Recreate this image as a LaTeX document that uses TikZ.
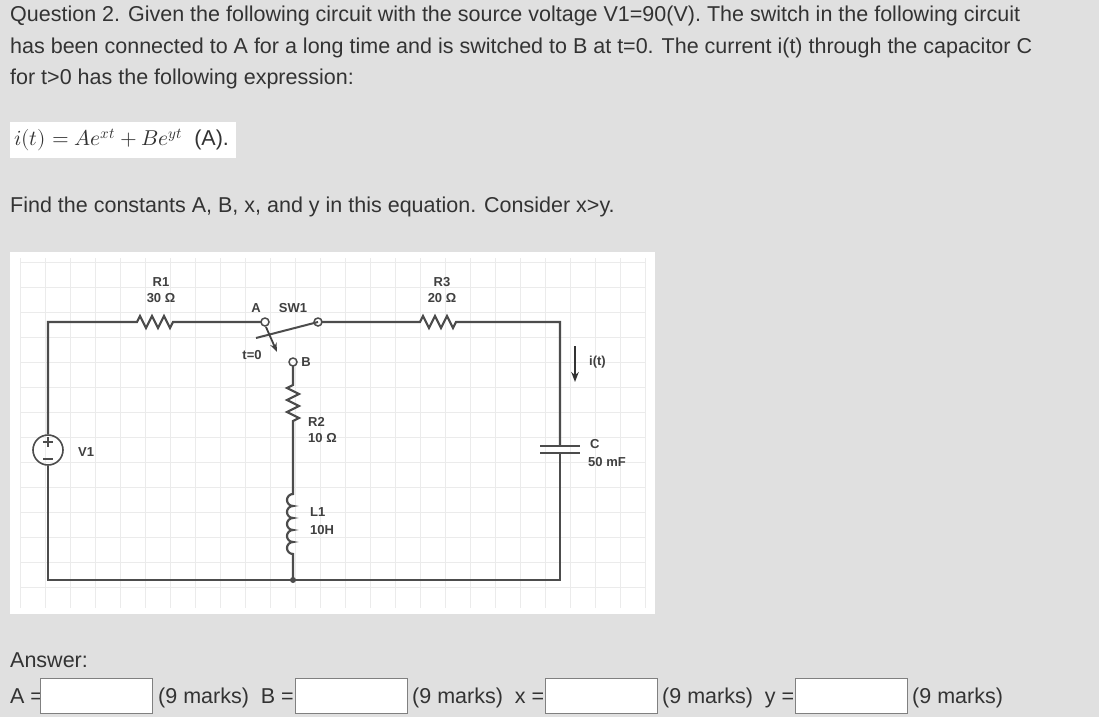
\documentclass[tikz,border=0pt]{standalone}
\usepackage{fontspec}
\setmainfont{Liberation Sans}
\usepackage{unicode-math}
\setmathfont{Latin Modern Math}
\usetikzlibrary{arrows.meta}
\begin{document}
\begin{tikzpicture}[x=1pt,y=-1pt,
  txt/.style={anchor=base west,inner sep=0,font=\fontsize{21.5}{24}\selectfont,text=black!80},
  lbl/.style={inner sep=0,font=\fontsize{13}{14}\selectfont\bfseries,text=black!75},
  wire/.style={draw=black!70,line width=2.2pt},
  abox/.style={draw=black!50,fill=white,minimum width=112pt,minimum height=35pt,inner sep=0,anchor=west}]
\fill[black!12] (0,0) rectangle (1099,717);
\useasboundingbox (0,0) rectangle (1099,717);
\node[txt] (t1) at (10,22) {Question 2. Given the following circuit with the source voltage V1=90(V). The switch in the following circuit};
\node[txt] (t2) at (10,53) {has been connected to A for a long time and is switched to B at t=0. The current i(t) through the capacitor C};
\node[txt] (t3) at (10,84) {for t>0 has the following expression:};
\node[fill=white,minimum width=226pt,minimum height=36pt,anchor=west,inner sep=0] (eqbox) at (10,140) {};
\node[txt,anchor=west] (eq) at (14,140) {$i(t)=Ae^{xt}+Be^{yt}$\ \ (A).};
\node[txt] (t4) at (10,212) {Find the constants A, B, x, and y in this equation. Consider x>y.};
% circuit panel
\fill[white] (10,252) rectangle (655,614);
\foreach \gx in {20,45,...,645} \draw[black!8,line width=0.6pt] (\gx,258) -- (\gx,608);
\foreach \gy in {262,287,...,608} \draw[black!8,line width=0.6pt] (20,\gy) -- (645,\gy);
\coordinate (tl) at (53,322); \coordinate (tr) at (560,322);
\coordinate (bl) at (53,580); \coordinate (br) at (560,580);
\coordinate (bm) at (293,580);
\node[circle,draw=black!70,line width=1.6pt,minimum size=30pt,inner sep=0] (v1) at (48,450) {};
\draw[black!70,line width=1.4pt] (43,442)--(53,442) (48,437)--(48,447) (43,459)--(53,459);
\node[lbl,anchor=west] (v1l) at (78,452) {V1};
\coordinate (A) at (265,322); \coordinate (S2) at (318,322); \coordinate (B) at (293,362);
% wires
\draw[wire] (v1.north) -- (48,322) -- (137,322) -- ++(3,-6)--++(6,12)--++(6,-12)--++(6,12)--++(6,-12)--++(6,12)--++(3,-6) -- (261,322);
\draw[wire] (322,322) -- (420,322) -- ++(3,-6)--++(6,12)--++(6,-12)--++(6,12)--++(6,-12)--++(6,12)--++(3,-6) -- (tr) -- (560,446);
\draw[wire] (560,453) -- (br) -- (bl) -- (48,580) -- (v1.south);
\draw[wire] (540,446) -- (580,446); \draw[wire] (540,453) -- (580,453);
\draw[black!70,line width=1.5pt] (A) circle (4); \draw[black!70,line width=1.5pt] (S2) circle (4);
\draw[black!70,line width=1.5pt] (B) circle (4);
\draw[black!70,line width=2pt] (256,338) -- (S2);
\draw[black!75,line width=1.8pt,-{Stealth[length=9pt]}] (266,327) -- (277,352);
\draw[wire] (293,366) -- (293,385) --++(-6,3)--++(12,6)--++(-12,6)--++(12,6)--++(-12,6)--++(12,6)--++(-6,3) -- (293,494)
  \foreach \i in {1,...,5}{ arc[start angle=270,end angle=90,radius=6] } -- (bm);
\fill[black!70] (bm) circle (3);
\draw[black!80,line width=2.2pt,-{Stealth[length=10pt]}] (575,346) -- (575,382);
\node[lbl,anchor=west] (il) at (589,362) {i(t)};
\node[lbl] (r1l) at (161,282) {R1}; \node[lbl] (r1v) at (161,298) {30 Ω};
\node[lbl] (r3l) at (442,282) {R3}; \node[lbl] (r3v) at (442,298) {20 Ω};
\node[lbl] (al) at (256,308) {A}; \node[lbl] (swl) at (293,308) {SW1};
\node[lbl] (t0) at (252,355) {t=0}; \node[lbl] (bl2) at (306,362) {B};
\node[lbl,anchor=west] (r2l) at (308,422) {R2}; \node[lbl,anchor=west] (r2v) at (308,438) {10 Ω};
\node[lbl,anchor=west] (l1l) at (310,512) {L1}; \node[lbl,anchor=west] (l1v) at (310,530) {10H};
\node[lbl,anchor=west] (cl) at (590,444) {C}; \node[lbl,anchor=west] (cv) at (588,462) {50 mF};
% answers
\node[txt] (ans) at (10,667) {Answer:};
\node[txt] (a) at (10,703) {A =};
\node[abox] (ba) at (40,696) {};
\node[txt] (m1) at (158,703) {(9 marks)\ \ B =};
\node[abox] (bb) at (295,696) {};
\node[txt] (m2) at (412,703) {(9 marks)\ \ x =};
\node[abox] (bx) at (545,696) {};
\node[txt] (m3) at (662,703) {(9 marks)\ \ y =};
\node[abox] (by) at (795,696) {};
\node[txt] (m4) at (912,703) {(9 marks)};
\end{tikzpicture}
\end{document}
